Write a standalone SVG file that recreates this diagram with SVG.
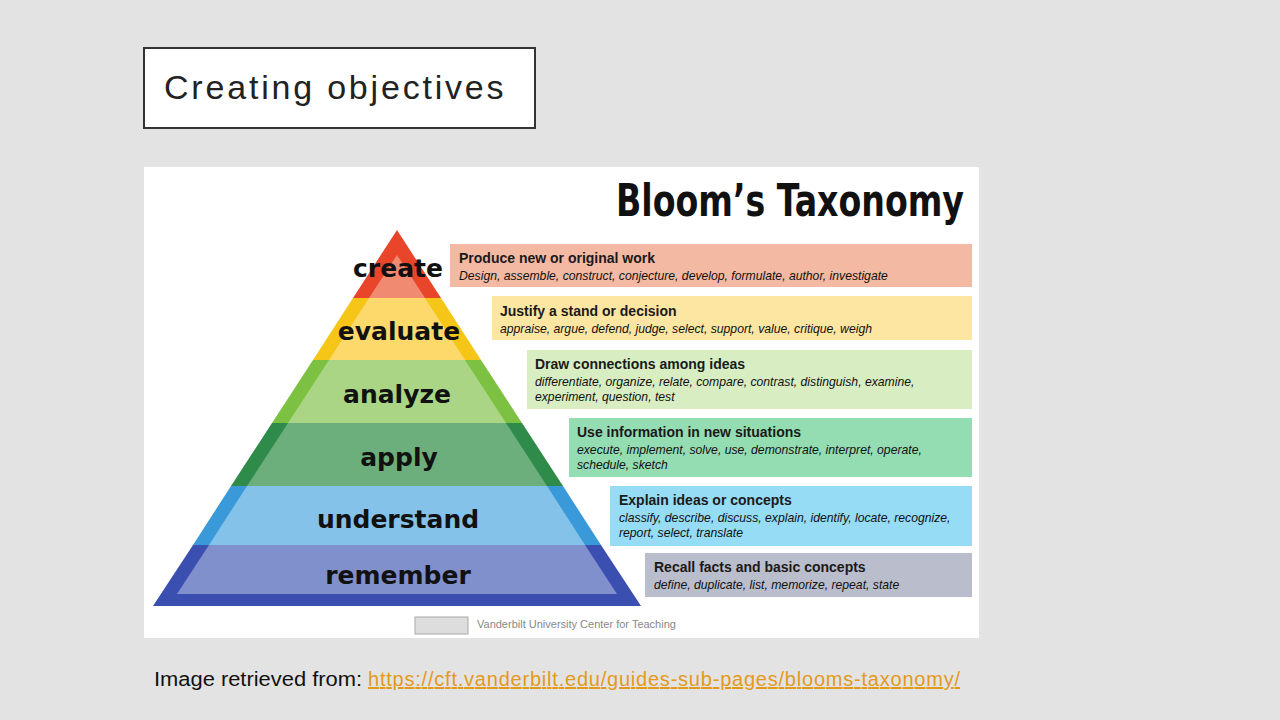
<svg xmlns="http://www.w3.org/2000/svg" width="1280" height="720" viewBox="0 0 1280 720">
<style>
.lvl{font-family:"DejaVu Sans","Liberation Sans",sans-serif;font-weight:bold;font-size:25px;fill:#111;text-anchor:middle}
.h{font-family:"Liberation Sans",sans-serif;font-weight:bold;font-size:14px;fill:#1a1a1a}
.d{font-family:"Liberation Sans",sans-serif;font-style:italic;font-size:12.2px;fill:#111}
</style>
<rect width="1280" height="720" fill="#e3e3e3"/>
<g id="title"><rect x="144" y="48" width="391" height="80" fill="#fff" stroke="#333" stroke-width="2"/>
<text x="164" y="99" font-family="Liberation Sans,sans-serif" font-size="34" letter-spacing="2.8" fill="#222">Creating objectives</text></g>
<g id="image">
<rect x="144" y="167" width="835" height="471" fill="#fff"/>
<text x="790" y="216" text-anchor="middle" font-family="DejaVu Sans Condensed,DejaVu Sans,sans-serif" font-weight="bold" font-size="44" textLength="348" lengthAdjust="spacingAndGlyphs" fill="#111">Bloom’s Taxonomy</text>
<g id="pyramid">
<polygon points="397,230 353,298 441,298" fill="#e8452a"/>
<polygon points="397,255 369,298 425,298" fill="#f08a70"/>
<polygon points="353,298 313,360 481,360 441,298" fill="#f5c518"/>
<polygon points="369,298 329,360 465,360 425,298" fill="#fcd96a"/>
<polygon points="313,360 272,423 522,423 481,360" fill="#7cc142"/>
<polygon points="329,360 288,423 506,423 465,360" fill="#a9d584"/>
<polygon points="272,423 231,486 563,486 522,423" fill="#2e8b4a"/>
<polygon points="288,423 247,486 547,486 506,423" fill="#6cae7c"/>
<polygon points="231,486 193,545 601,545 563,486" fill="#3a9ad9"/>
<polygon points="247,486 209,545 585,545 547,486" fill="#84c2ea"/>
<polygon points="193,545 153,606 641,606 601,545" fill="#3a4fb0"/>
<polygon points="209,545 177,594 617,594 585,545" fill="#8090cc"/>
<text class="lvl" x="398" y="277">create</text>
<text class="lvl" x="399" y="340">evaluate</text>
<text class="lvl" x="397" y="403">analyze</text>
<text class="lvl" x="399" y="466">apply</text>
<text class="lvl" x="398" y="528">understand</text>
<text class="lvl" x="398" y="584">remember</text>
</g>
<g id="create"><rect x="450" y="244" width="522" height="43" fill="#f4b9a2"/><text class="h" x="459" y="263">Produce new or original work</text><text class="d" x="459" y="280">Design, assemble, construct, conjecture, develop, formulate, author, investigate</text></g>
<g id="evaluate"><rect x="492" y="296" width="480" height="44" fill="#fde6a2"/><text class="h" x="500" y="316">Justify a stand or decision</text><text class="d" x="500" y="333">appraise, argue, defend, judge, select, support, value, critique, weigh</text></g>
<g id="analyze"><rect x="527" y="350" width="445" height="59" fill="#d9edc2"/><text class="h" x="535" y="369">Draw connections among ideas</text><text class="d" x="535" y="386">differentiate, organize, relate, compare, contrast, distinguish, examine,</text><text class="d" x="535" y="401">experiment, question, test</text></g>
<g id="apply"><rect x="569" y="418" width="403" height="59" fill="#94dcb2"/><text class="h" x="577" y="437">Use information in new situations</text><text class="d" x="577" y="454">execute, implement, solve, use, demonstrate, interpret, operate,</text><text class="d" x="577" y="469">schedule, sketch</text></g>
<g id="understand"><rect x="610" y="486" width="362" height="60" fill="#95dcf4"/><text class="h" x="619" y="505">Explain ideas or concepts</text><text class="d" x="619" y="522">classify, describe, discuss, explain, identify, locate, recognize,</text><text class="d" x="619" y="537">report, select, translate</text></g>
<g id="remember"><rect x="645" y="553" width="327" height="44" fill="#b9bdcc"/><text class="h" x="654" y="572">Recall facts and basic concepts</text><text class="d" x="654" y="589">define, duplicate, list, memorize, repeat, state</text></g>
<rect x="415" y="617" width="53" height="17" fill="#ddd" stroke="#aaa"/>
<text x="477" y="628" font-family="Liberation Sans,sans-serif" font-size="11" fill="#888">Vanderbilt University Center for Teaching</text>
</g>
<g id="connectors"/>
<text x="154" y="686" font-family="Liberation Sans,sans-serif" font-size="20" fill="#111" textLength="208" lengthAdjust="spacingAndGlyphs">Image retrieved from:</text>
<text x="368" y="686" font-family="Liberation Sans,sans-serif" font-size="20" fill="#e39a1c" text-decoration="underline" textLength="592" lengthAdjust="spacing">https://cft.vanderbilt.edu/guides-sub-pages/blooms-taxonomy/</text>
</svg>
